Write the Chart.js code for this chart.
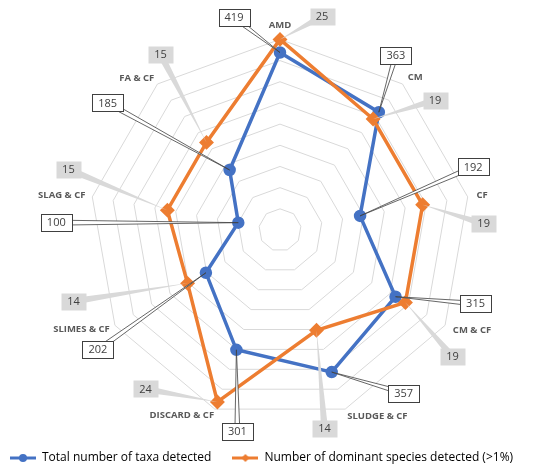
<!DOCTYPE html>
<html>
<head>
<meta charset="utf-8">
<script src="https://cdn.jsdelivr.net/npm/chart.js@4.4.1/dist/chart.umd.min.js"></script>
<style>
  html, body { margin: 0; padding: 0; background: #ffffff; overflow: hidden; }
</style>
</head>
<body>
<canvas id="myChart" width="560" height="470"></canvas>
<script>
const categories = ["AMD", "CM", "CF", "CM & CF", "SLUDGE & CF", "DISCARD & CF", "SLIMES & CF", "SLAG & CF", "FA & CF"];
const taxaTotal = [419, 363, 192, 315, 357, 301, 202, 100, 185];
const dominantSpecies = [25, 19, 19, 19, 14, 24, 14, 15, 15];
const taxaAxisMax = 450;
const taxaAxisStep = 50;
const speciesAxisMax = 25;

// where each value box sits, relative to its point (px)
const calloutOffsets = [
  [[-46, -35], [17, -57], [113, -49], [80, 7], [72, 21], [1, 82], [-108, 77], [-182, 0], [-122, -67]],
  [[42, -23], [62, -19], [61, 19], [47, 54], [8, 98], [-72, -13], [-114, 18], [-99, -41], [-46, -88]],
];
// per-category label spacing, to sit the category names where Excel put them
const labelPad = [8, 8, 9, 9, 6, 2, 6, 7, 5];
const labelLineHeight = [1.2, 0.2, 0.1, 0.1, 0.3, 1.0, 0.2, 0.1, 0.35];

const BLUE = "#4472C4";
const ORANGE = "#ED7D31";
const labelFont = (c) => ({ family: "Open Sans", size: 9.5, weight: "bold", lineHeight: labelLineHeight[c.index] });
const labelPadding = (c) => labelPad[c.index];

function legendMarker(color, shape) {
  const c = document.createElement("canvas");
  c.width = 26;
  c.height = 12;
  const g = c.getContext("2d");
  g.strokeStyle = color;
  g.lineWidth = 3;
  g.beginPath();
  g.moveTo(0, 6);
  g.lineTo(26, 6);
  g.stroke();
  g.fillStyle = color;
  g.beginPath();
  if (shape === "circle") {
    g.arc(13, 6, 4, 0, Math.PI * 2);
  } else {
    g.moveTo(13, 2);
    g.lineTo(17, 6);
    g.lineTo(13, 10);
    g.lineTo(9, 6);
    g.closePath();
  }
  g.fill();
  return c;
}
const markers = [legendMarker(BLUE, "circle"), legendMarker(ORANGE, "diamond")];

const calloutPlugin = {
  id: "callouts",
  afterDatasetsDraw(chart) {
    const ctx = chart.ctx;
    ctx.save();
    ctx.font = "11px 'Open Sans'";
    const items = [];
    chart.data.datasets.forEach((ds, di) => {
      const meta = chart.getDatasetMeta(di);
      meta.data.forEach((pt, i) => {
        const text = String(ds.data[i]);
        const w = Math.round(ctx.measureText(text).width + 12);
        const off = calloutOffsets[di][i];
        items.push({ di, px: pt.x, py: pt.y, text, w, h: 17, bx: pt.x + off[0], by: pt.y + off[1] });
      });
    });

    // leader wedges
    items.forEach((it) => {
      const dx = it.px - it.bx, dy = it.py - it.by;
      const len = Math.hypot(dx, dy) || 1;
      const hw = it.di === 0 ? 2.5 : 3.5;
      const nx = (-dy / len) * hw, ny = (dx / len) * hw;
      ctx.beginPath();
      ctx.moveTo(it.bx + nx, it.by + ny);
      ctx.lineTo(it.px, it.py);
      ctx.lineTo(it.bx - nx, it.by - ny);
      ctx.closePath();
      if (it.di === 0) {
        ctx.fillStyle = "#ffffff";
        ctx.fill();
        ctx.strokeStyle = "#404040";
        ctx.lineWidth = 0.8;
        ctx.stroke();
      } else {
        ctx.fillStyle = "#d9d9d9";
        ctx.fill();
      }
    });

    // boxes + text
    items.forEach((it) => {
      const x = Math.round(it.bx - it.w / 2) + 0.5;
      const y = Math.round(it.by - it.h / 2) + 0.5;
      ctx.fillStyle = it.di === 0 ? "#ffffff" : "#d9d9d9";
      ctx.fillRect(x, y, it.w, it.h);
      if (it.di === 0) {
        ctx.strokeStyle = "#404040";
        ctx.lineWidth = 1;
        ctx.strokeRect(x, y, it.w, it.h);
      }
      ctx.fillStyle = "#404040";
      ctx.textAlign = "center";
      ctx.textBaseline = "middle";
      ctx.fillText(it.text, it.bx, it.by + 0.5);
    });
    ctx.restore();
  },
};

const ctx = document.getElementById("myChart");

new Chart(ctx, {
  type: "radar",
  data: {
    labels: categories,
    datasets: [
      {
        label: "Total number of taxa detected",
        data: taxaTotal,
        rAxisID: "r",
        order: 1,
        borderColor: BLUE,
        backgroundColor: BLUE,
        borderWidth: 3.5,
        fill: false,
        pointStyle: "circle",
        pointRadius: 4.5,
        pointBackgroundColor: BLUE,
        pointBorderColor: BLUE,
      },
      {
        label: "Number of dominant species detected (>1%)",
        data: dominantSpecies,
        rAxisID: "r2",
        order: 0,
        borderColor: ORANGE,
        backgroundColor: ORANGE,
        borderWidth: 3.5,
        fill: false,
        pointStyle: "rectRot",
        pointRadius: 5,
        pointBackgroundColor: ORANGE,
        pointBorderColor: ORANGE,
      },
    ],
  },
  options: {
    responsive: false,
    maintainAspectRatio: false,
    animation: false,
    layout: { padding: { top: 11, bottom: -4, left: -11, right: 0 } },
    elements: { line: { tension: 0 } },
    plugins: {
      tooltip: { enabled: false },
      legend: {
        position: "bottom",
        align: "start",
        labels: {
          usePointStyle: true,
          pointStyleWidth: 26,
          padding: 21,
          color: "#595959",
          font: { family: "Open Sans", size: 12 },
          generateLabels: (c) =>
            c.data.datasets.map((ds, i) => ({
              text: ds.label,
              pointStyle: markers[i],
              fillStyle: ds.borderColor,
              strokeStyle: ds.borderColor,
              lineWidth: 0,
              hidden: false,
              datasetIndex: i,
            })),
        },
      },
    },
    scales: {
      r: {
        min: 0,
        max: taxaAxisMax,
        ticks: { display: false, stepSize: taxaAxisStep },
        grid: { color: "#d9d9d9", lineWidth: 1 },
        angleLines: { display: false },
        pointLabels: { color: "#595959", font: labelFont, padding: labelPadding },
      },
      r2: {
        type: "radialLinear",
        axis: "r",
        min: 0,
        max: speciesAxisMax,
        ticks: { display: false },
        grid: { display: false },
        angleLines: { display: false },
        pointLabels: { color: "rgba(0,0,0,0)", font: labelFont, padding: labelPadding },
      },
    },
  },
  plugins: [calloutPlugin],
});
</script>
</body>
</html>
